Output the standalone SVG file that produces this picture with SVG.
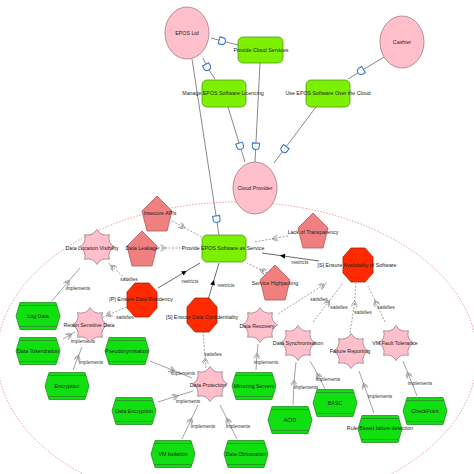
<svg xmlns="http://www.w3.org/2000/svg" width="474" height="474" viewBox="0 0 474 474">
<style>
text{font-family:"Liberation Sans",Arial,sans-serif;font-size:5.3px;fill:#222;text-anchor:middle;dominant-baseline:central}
.lbl{font-size:4.8px;fill:#333}
.actor{fill:#ffc0cb;stroke:#a07a84;stroke-width:0.8}
.goal{fill:#7cf000;stroke:#4c9a14;stroke-width:0.8}
.risk{fill:#f08080;stroke:#a85a5a;stroke-width:0.8}
.obj{fill:#ff2a00;stroke:#b02000;stroke-width:0.8}
.mech{fill:#ffc0cb;stroke:#9a7a86;stroke-width:0.8}
.task{fill:#10e010;stroke:#2a8a2a;stroke-width:0.8}
.dep{fill:none;stroke:#6a6a6a;stroke-width:0.8;marker-mid:url(#dmark)}
.contrib{fill:none;stroke:#7a7a7a;stroke-width:0.7;stroke-dasharray:2 1.5;marker-mid:url(#chev)}
.restr{fill:none;stroke:#454545;stroke-width:0.8;marker-mid:url(#tri)}
.sat{fill:none;stroke:#7a7a7a;stroke-width:0.7;stroke-dasharray:2 1.5;marker-mid:url(#chev)}
.impl{fill:none;stroke:#7a7a7a;stroke-width:0.7;marker-mid:url(#chev)}
.bound{fill:none;stroke:#e07080;stroke-width:0.7;stroke-dasharray:1.5 1.5}
</style>
<defs>
<marker id="dmark" markerUnits="userSpaceOnUse" markerWidth="12" markerHeight="12" refX="0" refY="0" viewBox="-6 -6 12 12" orient="auto" overflow="visible">
<path d="M-3,-3.5 L0,-3.5 A3.5,3.5 0 0 1 0,3.5 L-3,3.5 Z" fill="#fff" stroke="#3a7bd0" stroke-width="1.1"/>
</marker>
<marker id="chev" markerUnits="userSpaceOnUse" markerWidth="10" markerHeight="10" viewBox="-5 -5 10 10" orient="auto" overflow="visible">
<path d="M-4,-3 L0,0 L-4,3 M-2,-3 L2,0 L-2,3" fill="none" stroke="#777" stroke-width="0.6"/>
</marker>
<marker id="tri" markerUnits="userSpaceOnUse" markerWidth="10" markerHeight="10" viewBox="-5 -5 10 10" orient="auto" overflow="visible">
<path d="M-3,-2.5 L2,0 L-3,2.5 Z" fill="#000"/>
</marker>
<polygon id="pent" points="0,-18 15,-3 10,17 -10,17 -15,-3"/>
<polygon id="oct" points="-7,-17 7,-17 15,-8 15,8 7,17 -7,17 -15,8 -15,-8"/>
<path id="star" d="M0,-17.5 Q4.21,-10.16 12.37,-12.37 Q10.16,-4.21 17.5,0 Q10.16,4.21 12.37,12.37 Q4.21,10.16 0,17.5 Q-4.21,10.16 -12.37,12.37 Q-10.16,4.21 -17.5,0 Q-10.16,-4.21 -12.37,-12.37 Q-4.21,-10.16 0,-17.5 Z"/>
<g id="hex"><polygon points="-18,-13.5 18,-13.5 22,0 18,13.5 -18,13.5 -22,0"/><path d="M-19,-10.5 H19 M-19,10.5 H19" fill="none"/></g>
</defs>
<rect width="474" height="474" fill="#fff"/>
<ellipse class="bound" cx="237" cy="356" rx="240" ry="154"/>
<g id="connectors">
<polyline class="dep" points="211,38 222,41 238,45"/>
<polyline class="dep" points="203,58 207,67 215,79"/>
<polyline class="dep" points="192,59 216.5,219 219,235"/>
<polyline class="dep" points="228,107 240,146 245,162"/>
<polyline class="dep" points="260,63 255.8,146 255,162"/>
<polyline class="dep" points="316,107 284.5,149 274,163"/>
<polyline class="dep" points="384,57 361,71 348,79"/>
<polyline class="contrib" points="172,221 183,226.9 202,237"/>
<polyline class="contrib" points="158,248 164,248 184,248"/>
<polyline class="contrib" points="288,236 274,238.5 254,242"/>
<polyline class="contrib" points="267,273 262,270.5 247,263"/>
<polyline class="restr" points="319,261 282,255.8 262,253"/>
<polyline class="restr" points="158,288 185,271.9 200,263"/>
<polyline class="restr" points="208,300 213.4,282 219,263"/>
<polyline class="sat" points="128,281 112,266.5 108,263"/>
<polyline class="sat" points="127,307 108,315 102,317.5"/>
<polyline class="sat" points="206,368 205.3,360 203,332"/>
<polyline class="sat" points="278,314 323,285.2 328,282"/>
<polyline class="sat" points="313,322 328.4,302 343,283"/>
<polyline class="sat" points="350,333 354.6,303 356,283"/>
<polyline class="sat" points="385,322 375.6,302 368,286"/>
<polyline class="impl" points="52,301 68,282 80,268"/>
<polyline class="impl" points="63,339 70,335 75,332"/>
<polyline class="impl" points="73,370 78,357 82,347"/>
<polyline class="impl" points="150,361 173,370.3 192,378"/>
<polyline class="impl" points="158,402 176,396.3 193,391"/>
<polyline class="impl" points="182,439 190.9,420 198,405"/>
<polyline class="impl" points="237,439 227.5,420 220,405"/>
<polyline class="impl" points="256,370 257,355 258,344"/>
<polyline class="impl" points="293,405 294,382 296,362"/>
<polyline class="impl" points="325,389 318,375 310,361"/>
<polyline class="impl" points="374,413 364,385 359,371"/>
<polyline class="impl" points="417,396 408.2,374 403,361"/>
<text class="lbl" x="300" y="262">restricts</text>
<text class="lbl" x="190" y="281">restricts</text>
<text class="lbl" x="226" y="285">restricts</text>
<text class="lbl" x="129" y="279">satisfies</text>
<text class="lbl" x="125" y="317">satisfies</text>
<text class="lbl" x="213" y="354">satisfies</text>
<text class="lbl" x="319" y="299">satisfies</text>
<text class="lbl" x="339" y="307">satisfies</text>
<text class="lbl" x="363" y="312">satisfies</text>
<text class="lbl" x="386" y="307">satisfies</text>
<text class="lbl" x="78" y="288">implements</text>
<text class="lbl" x="83" y="341">implements</text>
<text class="lbl" x="91" y="362">implements</text>
<text class="lbl" x="183" y="373">implements</text>
<text class="lbl" x="188" y="401">implements</text>
<text class="lbl" x="203" y="426">implements</text>
<text class="lbl" x="238" y="426">implements</text>
<text class="lbl" x="266" y="362">implements</text>
<text class="lbl" x="306" y="387">implements</text>
<text class="lbl" x="328" y="379">implements</text>
<text class="lbl" x="380" y="396">implements</text>
<text class="lbl" x="420" y="383">implements</text>
</g>
<g id="epos-ltd"><ellipse class="actor" cx="187" cy="33" rx="22" ry="26"/><text x="187" y="33">EPOS Ltd</text></g>
<g id="cashier"><ellipse class="actor" cx="402" cy="42" rx="22" ry="26"/><text x="402" y="42">Cashier</text></g>
<g id="cloud-provider"><ellipse class="actor" cx="255" cy="188" rx="22" ry="26"/><text x="255" y="188">Cloud Provider</text></g>
<g id="provide-cloud-services"><rect class="goal" x="238" y="37" width="45" height="26" rx="5"/><text x="261" y="50">Provide Cloud Services</text></g>
<g id="manage-licencing"><rect class="goal" x="202" y="80" width="44" height="27" rx="5"/><text x="223" y="93">Manage EPOS Software Licencing</text></g>
<g id="use-epos"><rect class="goal" x="306" y="80" width="44" height="27" rx="5"/><text x="328" y="93">Use EPOS Software Over the Cloud</text></g>
<g id="provide-epos-saas"><rect class="goal" x="202" y="235" width="44" height="27" rx="5"/><text x="223" y="248">Provide EPOS Software as Service</text></g>
<g id="insecure-apis"><use href="#pent" class="risk" x="157" y="214"/><text x="160" y="213">Insecure APIs</text></g>
<g id="data-leakage"><use href="#pent" class="risk" x="142" y="249"/><text x="142" y="248">Data Leakage</text></g>
<g id="lack-transparency"><use href="#pent" class="risk" x="313" y="231"/><text x="313" y="232">Lack of Transparency</text></g>
<g id="service-highjacking"><use href="#pent" class="risk" x="275" y="283"/><text x="275" y="283">Service Highjacking</text></g>
<g id="ensure-availability"><use href="#oct" class="obj" x="358" y="265"/><text x="357" y="265">[S] Ensure Availability of Software</text></g>
<g id="ensure-residency"><use href="#oct" class="obj" x="142" y="300"/><text x="141" y="299">[P] Ensure Data Residency</text></g>
<g id="ensure-confidentiality"><use href="#oct" class="obj" x="202" y="315"/><text x="202" y="317">[S] Ensure Data Confidentiality</text></g>
<g id="data-location-visibility"><use href="#star" class="mech" x="97" y="247"/><text x="92" y="248">Data Location Visibility</text></g>
<g id="retain-sensitive-data"><use href="#star" class="mech" x="90" y="325"/><text x="89" y="325">Retain Sensitive Data</text></g>
<g id="data-protection"><use href="#star" class="mech" x="210" y="384"/><text x="208" y="385">Data Protection</text></g>
<g id="data-recovery"><use href="#star" class="mech" x="260" y="325"/><text x="257" y="326">Data Recovery</text></g>
<g id="data-synchronisation"><use href="#star" class="mech" x="298" y="343"/><text x="298" y="343">Data Synchronisation</text></g>
<g id="failure-reporting"><use href="#star" class="mech" x="351" y="351"/><text x="350" y="351">Failure Reporting</text></g>
<g id="vm-fault-tolerance"><use href="#star" class="mech" x="396" y="343"/><text x="395" y="343">VM Fault Tolerance</text></g>
<g id="log-data"><use href="#hex" class="task" x="38" y="316"/><text x="38" y="316">Log Data</text></g>
<g id="data-tokenization"><use href="#hex" class="task" x="38" y="351"/><text x="38" y="351">Data Tokenization</text></g>
<g id="pseudonymisation"><use href="#hex" class="task" x="127" y="351"/><text x="127" y="351">Pseudonymisation</text></g>
<g id="encryption"><use href="#hex" class="task" x="67" y="386"/><text x="67" y="386">Encryption</text></g>
<g id="data-encryption"><use href="#hex" class="task" x="134" y="411"/><text x="134" y="411">Data Encryption</text></g>
<g id="mirroring-servers"><use href="#hex" class="task" x="254" y="386"/><text x="254" y="386">Mirroring Servers</text></g>
<g id="vm-isolation"><use href="#hex" class="task" x="173" y="454"/><text x="173" y="454">VM Isolation</text></g>
<g id="data-obfuscation"><use href="#hex" class="task" x="246" y="454"/><text x="246" y="454">Data Obfuscation</text></g>
<g id="acid"><use href="#hex" class="task" x="290" y="420"/><text x="290" y="420">ACID</text></g>
<g id="basc"><use href="#hex" class="task" x="335" y="403"/><text x="335" y="403">BASC</text></g>
<g id="rule-based"><use href="#hex" class="task" x="380" y="429"/><text x="380" y="428">Rule Based failure detection</text></g>
<g id="checkpoint"><use href="#hex" class="task" x="425" y="411"/><text x="425" y="411">CheckPoint</text></g>
</svg>
